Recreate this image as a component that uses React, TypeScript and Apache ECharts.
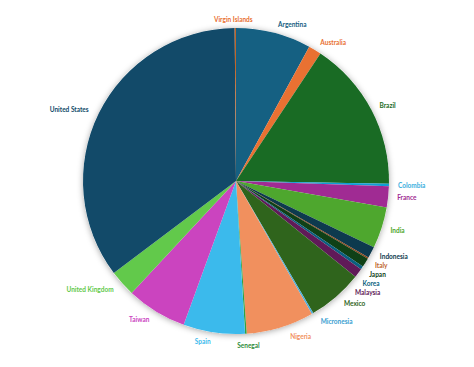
import React, { useEffect, useRef } from "react";
import * as echarts from "echarts";

const categories = [
  "Argentina", "Australia", "Brazil", "Colombia", "France", "India",
  "Indonesia", "Italy", "Japan", "Korea", "Malaysia", "Mexico",
  "Micronesia", "Nigeria", "Senegal", "Spain", "Taiwan",
  "United Kingdom", "United States", "Virgin Islands",
];
const values = [
  28.6, 4.9, 57.5, 1.0, 8.0, 15.7,
  4.3, 0.5, 3.5, 1.2, 3.5, 21.0,
  0.6, 25.7, 0.6, 23.4, 23.0,
  10.0, 126.5, 0.5,
];
const colors = [
  "#156082", "#E97132", "#196B24", "#0F9ED5", "#A02B93", "#4EA72E",
  "#0D3A4E", "#8B4419", "#0F4016", "#0A5F80", "#601A58", "#2F641C",
  "#4AAEDD", "#F1905E", "#33A040", "#3BBAEC", "#CB44BF",
  "#62C94B", "#124A69", "#C0652A",
];
const labelColors = [
  "#156082", "#E97132", "#196B24", "#3AAEDD", "#A02B93", "#4EA72E",
  "#0D3A4E", "#C0652A", "#0F4016", "#0A5F80", "#601A58", "#2F641C",
  "#3A9ED0", "#F1905E", "#2E8B3A", "#3BBAEC", "#CB44BF",
  "#62C94B", "#124A69", "#E97132",
];
// labels that sit near the vertical axis and are centred on their anchor
const centredLabels = ["Senegal", "Virgin Islands"];

export default function App() {
  const ref = useRef<HTMLDivElement>(null);
  useEffect(() => {
    document.body.style.margin = "0";
    const chart = echarts.init(ref.current!, null, { renderer: "svg" });
    const cx = 236, cy = 181, r = 153;
    chart.setOption({
      animation: false,
      backgroundColor: "#ffffff",
      graphic: [
        {
          type: "circle",
          z: 0,
          shape: { cx, cy, r },
          style: { fill: "#ffffff", shadowBlur: 6, shadowColor: "rgba(0,0,0,0.35)", shadowOffsetX: 0, shadowOffsetY: 1 },
        },
      ],
      series: [
        {
          type: "pie",
          center: [cx, cy],
          radius: [0, r],
          startAngle: 90,
          clockwise: true,
          avoidLabelOverlap: true,
          itemStyle: { borderWidth: 0 },
          label: {
            show: true,
            position: "outside",
            fontFamily: "Lato",
            fontWeight: "bold",
            fontSize: 6.5,
            lineHeight: 7,
            distanceToLabelLine: 2,
            formatter: "{b}",
          },
          labelLine: { show: false, length: 9, length2: 0 },
          labelLayout: (params: any) => {
            const name = categories[params.dataIndex];
            if (centredLabels.indexOf(name) >= 0) {
              const lr = params.labelRect;
              const isRight = lr.x + lr.width <= cx + 1;
              return { x: isRight ? lr.x + lr.width : lr.x, align: "center" };
            }
            return {};
          },
          emphasis: { disabled: true },
          data: categories.map((name, i) => ({
            name,
            value: values[i],
            itemStyle: { color: colors[i] },
            label: { color: labelColors[i] },
          })),
        },
      ],
    });
    return () => chart.dispose();
  }, []);
  return <div ref={ref} style={{ width: 474, height: 367 }} />;
}
